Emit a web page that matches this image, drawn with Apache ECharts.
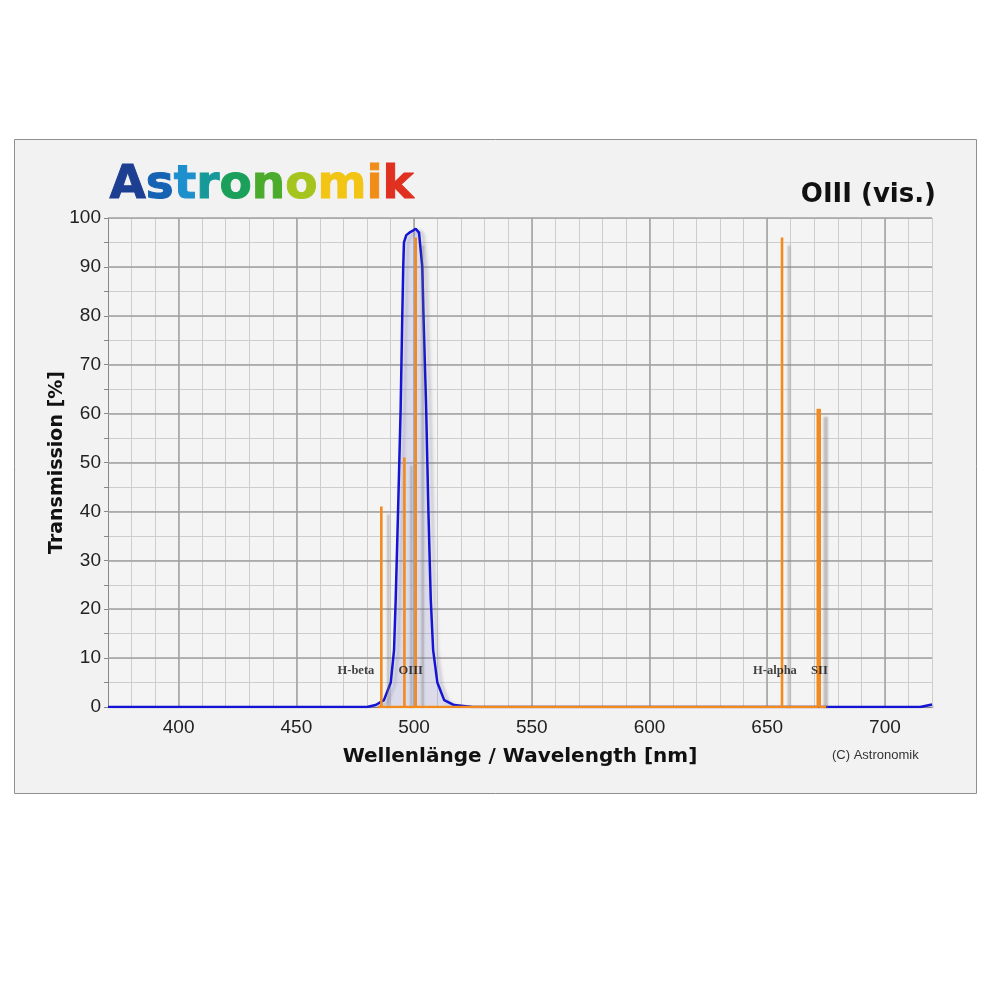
<!DOCTYPE html>
<html>
<head>
<meta charset="utf-8">
<script src="https://cdn.jsdelivr.net/npm/echarts@6/dist/echarts.min.js"></script>
<style>html,body{margin:0;padding:0;background:#fff}#c{width:998px;height:998px}</style>
</head>
<body>
<div id="c"></div>
<script>
// Filter transmission curve (wavelength nm, transmission %)
const filterWavelength = [370,480,483.7,487.2,490.1,491.5,492.2,493.2,494.3,495.0,495.4,495.7,496.7,498,499.5,500.7,501.4,502.1,503.5,504.0,505.1,506.1,507.1,508.1,509.9,512.8,517.0,525,715,720];
const filterTransmission = [0,0,0.4,1.4,5,11.7,22,40,61,80,90,95,96.5,97,97.4,97.8,97.6,97,90,80,62,40,22,11.7,5,1.4,0.4,0,0,0.5];

// Emission lines (wavelength nm, relative intensity %)
const lineWavelength = [486.1,495.9,500.7,656.3,671.5,672.3];
const lineIntensity = [41,51,96,96,61,61];
const lineStart = 484.5, lineEnd = 675;

// Emission line labels
const lineLabels = ['H-beta','OIII','H-alpha','SII'];
const labelX = [475.3,498.6,653.3,672.2];
const labelY = [7.4,7.4,7.4,7.4];

// Axis ticks
const xMajorTicks = [400,450,500,550,600,650,700];
const yMajorTicks = [10,20,30,40,50,60,70,80,90,100];

const filterData = filterWavelength.map((w,i)=>[w,filterTransmission[i]]);
const emissionData = [[lineStart,0]];
lineWavelength.forEach((w,i)=>{ emissionData.push([w,0],[w,lineIntensity[i]],[w,0]); });
emissionData.push([lineEnd,0]);
const labelData = lineLabels.map((t,i)=>[labelX[i],labelY[i],t]);

const chart = echarts.init(document.getElementById('c'));
const logoColors = ['#1d3f91','#1662b3','#1c8fcc','#17999a','#1aa05a','#4aab2c','#a6c41e','#f2c414','#f08d18','#e0301f'];
const logoText = 'Astronomik';
const rich = {};
let richStr = '';
logoText.split('').forEach((ch,i)=>{ rich['l'+i] = {fill:logoColors[i], font:'bold 47px "DejaVu Sans"', stroke:logoColors[i], lineWidth:1}; richStr += '{l'+i+'|'+ch+'}'; });

chart.setOption({
  backgroundColor:'#ffffff',
  animation:false,
  graphic:[
    {type:'rect', z:-10, shape:{x:14.5,y:139.5,width:962,height:654}, style:{fill:'#f2f2f2', stroke:'#8f8f8f', lineWidth:1}},
    {type:'text', left:109, top:162, style:{text:richStr, rich:rich, font:'bold 47px "DejaVu Sans"'}},
    {type:'text', right:998-936, top:182, style:{text:'OIII (vis.)', font:'bold 26px "DejaVu Sans"', fill:'#111'}},
    {type:'text', left:832, top:749, style:{text:'(C) Astronomik', font:'13px "Liberation Sans"', fill:'#333'}}
  ],
  grid:{left:108, right:66, top:218, bottom:291, show:true, backgroundColor:'#f4f4f4', borderWidth:0},
  xAxis:{
    type:'value', min:370, max:720, interval:10,
    name:'Wellenlänge / Wavelength [nm]', nameLocation:'middle', nameGap:40, nameMoveOverlap:false,
    nameTextStyle:{fontFamily:'DejaVu Sans', fontWeight:'bold', fontSize:20, color:'#111'},
    axisLine:{show:true, lineStyle:{color:'#888', width:1}},
    axisTick:{show:false},
    axisLabel:{margin:11, fontFamily:'Liberation Sans', fontSize:19, color:'#222', showMinLabel:false, showMaxLabel:false,
      formatter:v=> (v%50===0 ? String(v) : '')},
    splitLine:{show:true, lineStyle:{color:'#cdcdcd', width:1}}
  },
  yAxis:{
    type:'value', min:0, max:100, interval:5,
    name:'Transmission [%]', nameLocation:'middle', nameGap:41, nameMoveOverlap:false,
    nameTextStyle:{fontFamily:'DejaVu Sans', fontWeight:'bold', fontSize:19, color:'#111'},
    axisLine:{show:true, lineStyle:{color:'#888', width:1}},
    axisTick:{show:true, length:4, lineStyle:{color:'#888'}},
    axisLabel:{margin:7, fontFamily:'Liberation Sans', fontSize:19, color:'#222',
      formatter:v=> (v%10===0 ? String(v) : '')},
    splitLine:{show:true, lineStyle:{color:'#cdcdcd', width:1}}
  },
  series:[
    {
      type:'line', data:filterData, symbol:'none', z:3,
      lineStyle:{color:'#1414d2', width:2.5, shadowColor:'rgba(120,120,150,0.35)', shadowBlur:3, shadowOffsetX:4, shadowOffsetY:2},
      areaStyle:{color:'rgba(150,150,225,0.3)', shadowColor:'rgba(150,150,150,0.3)', shadowBlur:4, shadowOffsetX:6, shadowOffsetY:3},
      markLine:{
        silent:true, symbol:'none', label:{show:false}, z:1,
        lineStyle:{color:'#a0a0a0', width:1.5, type:'solid'},
        data:[...xMajorTicks.map(v=>({xAxis:v})), ...yMajorTicks.map(v=>({yAxis:v}))]
      }
    },
    {
      type:'line', data:emissionData, symbol:'none', z:4,
      lineStyle:{color:'#f28a1e', width:2.6, shadowColor:'rgba(110,110,110,0.4)', shadowBlur:2, shadowOffsetX:7, shadowOffsetY:8}
    },
    {
      type:'scatter', data:labelData, symbolSize:0, z:5, silent:true,
      label:{show:true, position:'inside', formatter:p=>p.value[2], fontFamily:'Liberation Serif', fontWeight:'bold', fontSize:12.5, color:'#111'}
    }
  ]
});
</script>
</body>
</html>
